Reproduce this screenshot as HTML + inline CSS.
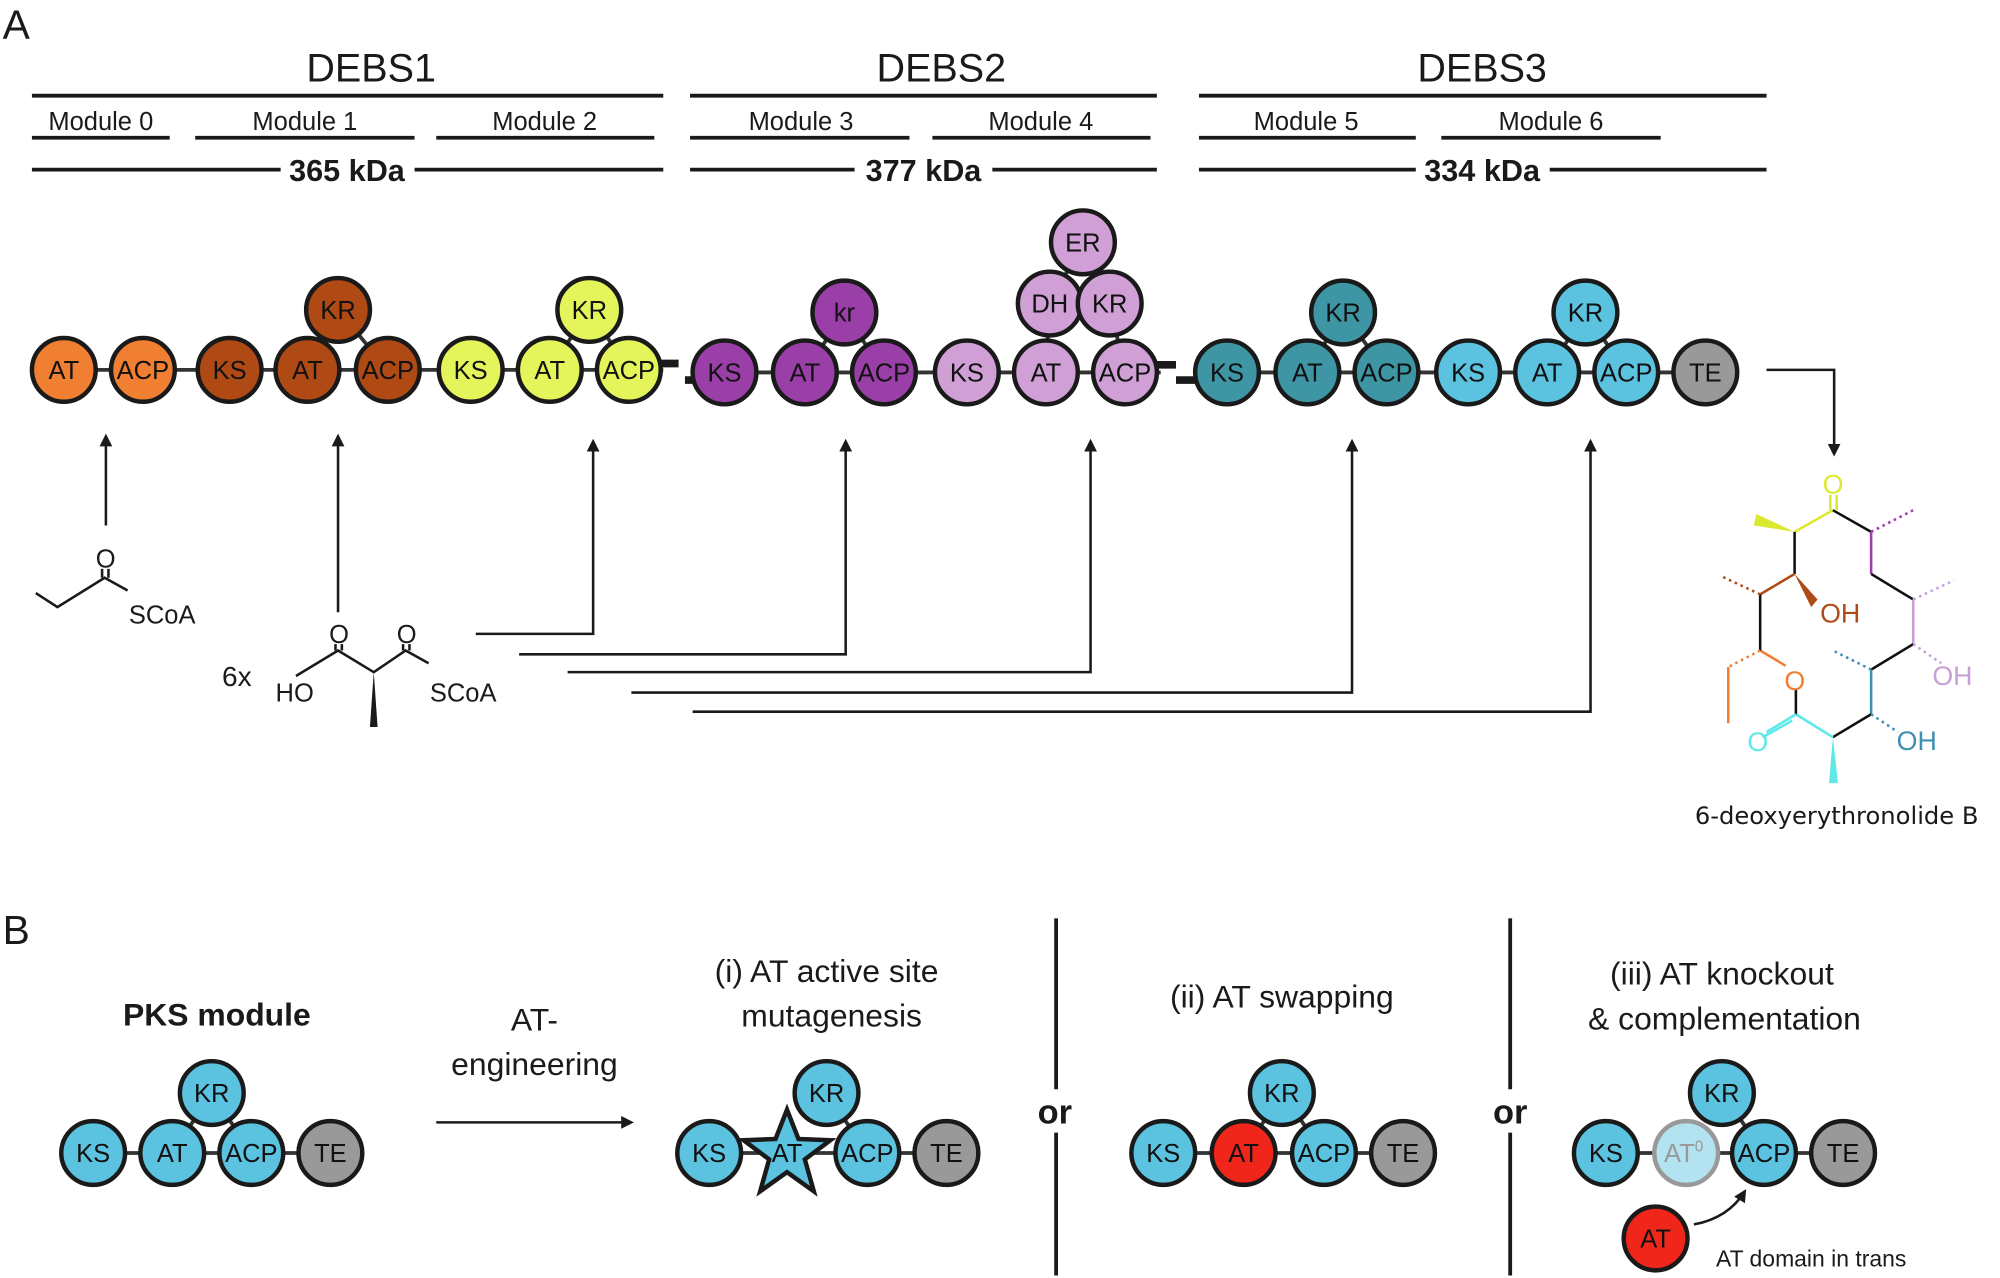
<!DOCTYPE html>
<html><head><meta charset="utf-8"><style>
html,body{margin:0;padding:0;background:#fff}
svg{display:block}
text{font-family:"Liberation Sans",Arial,sans-serif}
</style></head><body>
<svg width="2000" height="1278" viewBox="0 0 1568 1002" xmlns="http://www.w3.org/2000/svg">
<defs>
<marker id="ah" markerWidth="10" markerHeight="10" refX="8" refY="5" orient="auto" markerUnits="userSpaceOnUse"><path d="M0,0 L10,5 L0,10 z" fill="#1a1a1a"/></marker>
</defs>
<g fill="#1a1a1a">
<text x="2" y="30" font-size="32">A</text>
<text x="2" y="740" font-size="32">B</text>
<g font-size="31" text-anchor="middle">
<text x="291" y="64">DEBS1</text><text x="738" y="64">DEBS2</text><text x="1162" y="64">DEBS3</text>
</g>
<g font-size="20" text-anchor="middle">
<text x="79" y="102">Module 0</text><text x="239" y="102">Module 1</text><text x="427" y="102">Module 2</text>
<text x="628" y="102">Module 3</text><text x="816" y="102">Module 4</text>
<text x="1024" y="102">Module 5</text><text x="1216" y="102">Module 6</text>
</g>
</g>
<g stroke="#1a1a1a" stroke-width="3" fill="none">
<line x1="25" y1="75" x2="520" y2="75"/><line x1="541" y1="75" x2="907" y2="75"/><line x1="940" y1="75" x2="1385" y2="75"/>
<line x1="25" y1="108" x2="133" y2="108"/><line x1="153" y1="108" x2="325" y2="108"/><line x1="342" y1="108" x2="513" y2="108"/>
<line x1="541" y1="108" x2="713" y2="108"/><line x1="731" y1="108" x2="902" y2="108"/>
<line x1="940" y1="108" x2="1110" y2="108"/><line x1="1130" y1="108" x2="1302" y2="108"/>
<line x1="25" y1="133" x2="220" y2="133"/><line x1="325" y1="133" x2="520" y2="133"/>
<line x1="541" y1="133" x2="670" y2="133"/><line x1="778" y1="133" x2="907" y2="133"/>
<line x1="940" y1="133" x2="1110" y2="133"/><line x1="1215" y1="133" x2="1385" y2="133"/>
</g>
<g font-size="24" font-weight="bold" text-anchor="middle" fill="#1a1a1a">
<text x="272" y="142">365 kDa</text><text x="724" y="142">377 kDa</text><text x="1162" y="142">334 kDa</text>
</g>
<g stroke="#333" stroke-width="3">
<line x1="50" y1="290" x2="520" y2="290"/><line x1="555" y1="292" x2="910" y2="292"/><line x1="940" y1="292" x2="1337" y2="292"/>
<line x1="241" y1="290" x2="265" y2="243"/><line x1="304" y1="290" x2="265" y2="243"/>
<line x1="431" y1="290" x2="462" y2="243"/><line x1="493" y1="290" x2="462" y2="243"/>
<line x1="631" y1="292" x2="662" y2="245"/><line x1="693" y1="292" x2="662" y2="245"/>
<line x1="820" y1="292" x2="823" y2="238"/><line x1="882" y1="292" x2="870" y2="238"/><line x1="823" y1="238" x2="849" y2="190"/><line x1="870" y1="238" x2="849" y2="190"/>
<line x1="1025" y1="292" x2="1053" y2="245"/><line x1="1087" y1="292" x2="1053" y2="245"/>
<line x1="1213" y1="292" x2="1243" y2="245"/><line x1="1275" y1="292" x2="1243" y2="245"/>
</g>
<g stroke="#1a1a1a" stroke-width="6">
<line x1="512" y1="285" x2="532" y2="285"/><line x1="537" y1="298" x2="556" y2="298"/>
<line x1="903" y1="286" x2="922" y2="286"/><line x1="922" y1="298" x2="940" y2="298"/>
</g>
<g stroke="#1a1a1a" stroke-width="3.5" font-size="20">
<g fill="#f07f32"><circle cx="50" cy="290" r="25"/><circle cx="112" cy="290" r="25"/></g>
<g fill="#b04a15"><circle cx="180" cy="290" r="25"/><circle cx="241" cy="290" r="25"/><circle cx="265" cy="243" r="25"/><circle cx="304" cy="290" r="25"/></g>
<g fill="#e3f55a"><circle cx="369" cy="290" r="25"/><circle cx="431" cy="290" r="25"/><circle cx="462" cy="243" r="25"/><circle cx="493" cy="290" r="25"/></g>
<g fill="#9b3fa8"><circle cx="568" cy="292" r="25"/><circle cx="631" cy="292" r="25"/><circle cx="662" cy="245" r="25"/><circle cx="693" cy="292" r="25"/></g>
<g fill="#cf9fd6"><circle cx="758" cy="292" r="25"/><circle cx="820" cy="292" r="25"/><circle cx="823" cy="238" r="25"/><circle cx="870" cy="238" r="25"/><circle cx="849" cy="190" r="25"/><circle cx="882" cy="292" r="25"/></g>
<g fill="#3e95a4"><circle cx="962" cy="292" r="25"/><circle cx="1025" cy="292" r="25"/><circle cx="1053" cy="245" r="25"/><circle cx="1087" cy="292" r="25"/></g>
<g fill="#5bc2e0"><circle cx="1151" cy="292" r="25"/><circle cx="1213" cy="292" r="25"/><circle cx="1243" cy="245" r="25"/><circle cx="1275" cy="292" r="25"/></g>
<circle cx="1337" cy="292" r="25" fill="#999"/>
</g>
<g font-size="20" text-anchor="middle" fill="#111">
<text x="50" y="297">AT</text><text x="112" y="297">ACP</text><text x="180" y="297">KS</text><text x="241" y="297">AT</text><text x="265" y="250">KR</text><text x="304" y="297">ACP</text>
<text x="369" y="297">KS</text><text x="431" y="297">AT</text><text x="462" y="250">KR</text><text x="493" y="297">ACP</text>
<text x="568" y="299">KS</text><text x="631" y="299">AT</text><text x="662" y="252">kr</text><text x="693" y="299">ACP</text>
<text x="758" y="299">KS</text><text x="820" y="299">AT</text><text x="823" y="245">DH</text><text x="870" y="245">KR</text><text x="849" y="197">ER</text><text x="882" y="299">ACP</text>
<text x="962" y="299">KS</text><text x="1025" y="299">AT</text><text x="1053" y="252">KR</text><text x="1087" y="299">ACP</text>
<text x="1151" y="299">KS</text><text x="1213" y="299">AT</text><text x="1243" y="252">KR</text><text x="1275" y="299">ACP</text><text x="1337" y="299">TE</text>
</g>
<g stroke="#1a1a1a" stroke-width="2" fill="none" marker-end="url(#ah)">
<line x1="83" y1="412" x2="83" y2="342"/>
<line x1="265" y1="480" x2="265" y2="342"/>
<polyline points="373,497 465,497 465,346"/>
<polyline points="407,513 663,513 663,346"/>
<polyline points="445,527 855,527 855,346"/>
<polyline points="495,543 1060,543 1060,346"/>
<polyline points="543,558 1247,558 1247,346"/>
<polyline points="1385,290 1438,290 1438,356"/>
</g>
<g stroke="#1a1a1a" stroke-width="2" fill="none">
<polyline points="28,465 45,476 82,453 100,463"/>
<line x1="80" y1="453" x2="80" y2="446"/><line x1="85" y1="453" x2="85" y2="446"/>
<polyline points="232,530 265,510 293,527 318,510 336,520"/>
<line x1="263" y1="510" x2="263" y2="505"/><line x1="268" y1="510" x2="268" y2="505"/>
<line x1="316" y1="510" x2="316" y2="505"/><line x1="321" y1="510" x2="321" y2="505"/>
</g>
<polygon points="293,527 290,570 296,570" fill="#1a1a1a"/>
<g font-size="20" fill="#1a1a1a">
<text x="75" y="445">O</text><text x="101" y="489">SCoA</text>
<text x="258" y="504">O</text><text x="311" y="504">O</text>
<text x="216" y="550">HO</text><text x="337" y="550">SCoA</text>
<text x="174" y="538" font-size="22">6x</text>
</g>
<g stroke-width="2" fill="none">
<line x1="1435" y1="400" x2="1435" y2="388" stroke="#dbe830"/><line x1="1440" y1="400" x2="1440" y2="388" stroke="#dbe830"/>
<line x1="1437" y1="400" x2="1407" y2="417" stroke="#dbe830"/>
<line x1="1437" y1="400" x2="1467" y2="417" stroke="#111"/>
<line x1="1467" y1="417" x2="1467" y2="450" stroke="#a03cb0"/>
<line x1="1467" y1="450" x2="1500" y2="470" stroke="#111"/>
<line x1="1500" y1="470" x2="1500" y2="505" stroke="#c8a0d6"/>
<line x1="1500" y1="505" x2="1467" y2="525" stroke="#111"/>
<line x1="1467" y1="525" x2="1467" y2="560" stroke="#3e8fb0"/>
<line x1="1467" y1="560" x2="1437" y2="578" stroke="#111"/>
<line x1="1437" y1="578" x2="1408" y2="560" stroke="#5ee8e8"/>
<line x1="1408" y1="560" x2="1408" y2="541" stroke="#111"/>
<line x1="1400" y1="522" x2="1380" y2="510" stroke="#f07f32"/>
<line x1="1407" y1="417" x2="1407" y2="450" stroke="#111"/>
<line x1="1407" y1="450" x2="1380" y2="466" stroke="#b04a15"/>
<line x1="1380" y1="466" x2="1380" y2="510" stroke="#111"/>
<line x1="1355" y1="523" x2="1355" y2="567" stroke="#f07f32"/>
<line x1="1408" y1="560" x2="1385" y2="574" stroke="#5ee8e8"/><line x1="1405" y1="565" x2="1382" y2="578" stroke="#5ee8e8"/>
<line x1="1380" y1="510" x2="1355" y2="523" stroke="#f07f32" stroke-dasharray="2,3"/>
<line x1="1380" y1="466" x2="1350" y2="452" stroke="#b04a15" stroke-dasharray="2,3"/>
<line x1="1467" y1="417" x2="1500" y2="400" stroke="#a03cb0" stroke-dasharray="2,3"/>
<line x1="1500" y1="470" x2="1532" y2="455" stroke="#c8a0d6" stroke-dasharray="2,3"/>
<line x1="1500" y1="505" x2="1522" y2="520" stroke="#c8a0d6" stroke-dasharray="2,3"/>
<line x1="1467" y1="525" x2="1437" y2="510" stroke="#3e8fb0" stroke-dasharray="2,3"/>
<line x1="1467" y1="560" x2="1488" y2="574" stroke="#3e8fb0" stroke-dasharray="2,3"/>
</g>
<polygon points="1407,417 1377,403 1375,412" fill="#dbe830"/>
<polygon points="1407,450 1425,470 1420,476" fill="#b04a15"/>
<polygon points="1437,578 1434,614 1441,614" fill="#5ee8e8"/>
<g font-size="21">
<text x="1429" y="387" fill="#dbe830">O</text>
<text x="1427" y="488" fill="#b04a15">OH</text>
<text x="1515" y="537" fill="#c8a0d6">OH</text>
<text x="1487" y="588" fill="#3e8fb0">OH</text>
<text x="1399" y="541" fill="#f07f32">O</text>
<text x="1370" y="589" fill="#5ee8e8">O</text>
</g>
<text x="1440" y="646" font-size="19" text-anchor="middle" fill="#1a1a1a" style="font-family:'DejaVu Sans',sans-serif">6-deoxyerythronolide B</text>
<g fill="#1a1a1a" font-size="25" text-anchor="middle">
<text x="170" y="804" font-weight="bold">PKS module</text>
<text x="419" y="808">AT-</text><text x="419" y="843">engineering</text>
<text x="648" y="770">(i) AT active site</text><text x="652" y="805">mutagenesis</text>
<text x="1005" y="790">(ii) AT swapping</text>
<text x="1350" y="772">(iii) AT knockout</text><text x="1352" y="807">&amp; complementation</text>
<text x="827" y="881" font-weight="bold" font-size="27">or</text><text x="1184" y="881" font-weight="bold" font-size="27">or</text>
</g>
<g stroke="#1a1a1a" stroke-width="3">
<line x1="828" y1="720" x2="828" y2="854"/><line x1="828" y1="888" x2="828" y2="1000"/>
<line x1="1184" y1="720" x2="1184" y2="854"/><line x1="1184" y1="888" x2="1184" y2="1000"/>
</g>
<line x1="342" y1="880" x2="495" y2="880" stroke="#1a1a1a" stroke-width="2" marker-end="url(#ah)"/>
<g stroke="#333" stroke-width="3">
<line x1="73" y1="904" x2="259" y2="904"/><line x1="135" y1="904" x2="166" y2="857"/><line x1="197" y1="904" x2="166" y2="857"/>
<line x1="556" y1="904" x2="742" y2="904"/><line x1="680" y1="904" x2="648" y2="857"/>
<line x1="912" y1="904" x2="1100" y2="904"/><line x1="975" y1="904" x2="1005" y2="857"/><line x1="1038" y1="904" x2="1005" y2="857"/>
<line x1="1259" y1="904" x2="1445" y2="904"/><line x1="1383" y1="904" x2="1350" y2="857"/>
</g>
<g stroke="#1a1a1a" stroke-width="3.5">
<g fill="#5bc2e0">
<circle cx="73" cy="904" r="25"/><circle cx="135" cy="904" r="25"/><circle cx="166" cy="857" r="25"/><circle cx="197" cy="904" r="25"/>
<circle cx="556" cy="904" r="25"/><circle cx="648" cy="857" r="25"/><circle cx="680" cy="904" r="25"/>
<polygon points="617,870 626,893 651,894 631,909 638,934 617,919 596,934 603,909 583,894 608,893"/>
<circle cx="912" cy="904" r="25"/><circle cx="1005" cy="857" r="25"/><circle cx="1038" cy="904" r="25"/>
<circle cx="1259" cy="904" r="25"/><circle cx="1350" cy="857" r="25"/><circle cx="1383" cy="904" r="25"/>
</g>
<g fill="#999"><circle cx="259" cy="904" r="25"/><circle cx="742" cy="904" r="25"/><circle cx="1100" cy="904" r="25"/><circle cx="1445" cy="904" r="25"/></g>
<g fill="#f0261a"><circle cx="975" cy="904" r="25"/><circle cx="1298" cy="971" r="25"/></g>
</g>
<circle cx="1322" cy="904" r="25" fill="#b3e3f0" stroke="#999" stroke-width="3.5"/>
<g font-size="20" text-anchor="middle" fill="#111">
<text x="73" y="911">KS</text><text x="135" y="911">AT</text><text x="166" y="864">KR</text><text x="197" y="911">ACP</text><text x="259" y="911">TE</text>
<text x="556" y="911">KS</text><text x="617" y="911">AT</text><text x="648" y="864">KR</text><text x="680" y="911">ACP</text><text x="742" y="911">TE</text>
<text x="912" y="911">KS</text><text x="975" y="911">AT</text><text x="1005" y="864">KR</text><text x="1038" y="911">ACP</text><text x="1100" y="911">TE</text>
<text x="1259" y="911">KS</text><text x="1320" y="911" fill="#999">AT<tspan font-size="12" dy="-8">0</tspan></text><text x="1350" y="864">KR</text><text x="1383" y="911">ACP</text><text x="1445" y="911">TE</text>
<text x="1298" y="978">AT</text>
</g>
<path d="M1328,960 Q1355,955 1368,934" stroke="#1a1a1a" stroke-width="2" fill="none" marker-end="url(#ah)"/>
<text x="1420" y="993" font-size="18" text-anchor="middle" fill="#1a1a1a">AT domain in trans</text>
</svg>
</body></html>
